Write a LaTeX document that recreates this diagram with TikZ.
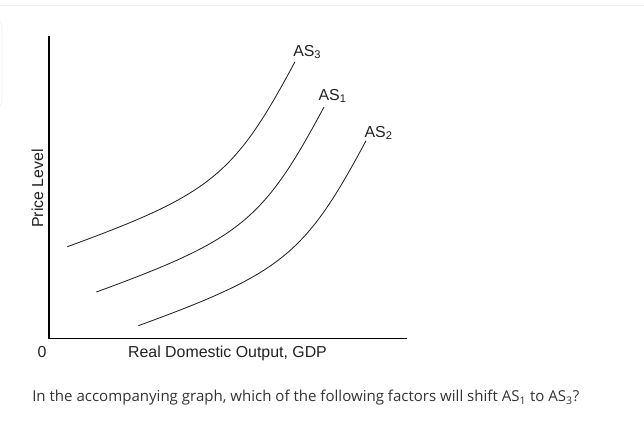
\documentclass[tikz,border=0pt]{standalone}
\usepackage{fontspec}
\setmainfont{Liberation Sans}
\newfontfamily\questfont{Open Sans}
\definecolor{labelblack}{HTML}{222222}
\definecolor{questgray}{HTML}{333333}
\definecolor{framegray}{HTML}{EEEEEE}

\tikzset{
  curvelabel/.style={anchor=base west, inner sep=0pt, text=labelblack},
  axislabel/.style={anchor=base, inner sep=0pt, text=labelblack},
  ascurve/.style={line width=0.6pt, labelblack},
}

\begin{document}
\begin{tikzpicture}[x=0.025cm, y=-0.025cm, font=\fontsize{11.3}{13}\selectfont]
        \useasboundingbox (0,0) rectangle (644,443);
        \draw[framegray] (0,5) -- (644,5);
        \draw[framegray, rounded corners=4pt] (-20,20) rectangle (2,107);
        % axes
        \draw[line width=0.8pt] (49,36) -- (49,338.3) -- (407,338.3);
        \node[axislabel] (zero) at (42,357) {0};
        \node[axislabel] (gdp) at (227.5,357) {Real Domestic Output, GDP};
        \node[axislabel, rotate=90] (price) at (43,188.5) {Price Level};
        % supply curves (same shape, shifted)
        \draw[ascurve] (67.3,246.7) .. controls (211.3,194.1) and (234.1,175.6) .. (295,61.7);
        \draw[ascurve, shift={(29,45.3)}] (67.3,246.7) .. controls (211.3,194.1) and (234.1,175.6) .. (295,61.7);
        \draw[ascurve, shift={(71,79)}] (67.3,246.7) .. controls (211.3,194.1) and (234.1,175.6) .. (295,61.7);
        \node[curvelabel] (as3) at (293,56) {AS\textsubscript{3}};
        \node[curvelabel] (as1) at (318.3,100) {AS\textsubscript{1}};
        \node[curvelabel] (as2) at (364.3,137.3) {AS\textsubscript{2}};
        % question
        \node[curvelabel, text=questgray, font=\questfont\fontsize{10.7}{13}\selectfont] (quest) at (32,401.7)
          {In the accompanying graph, which of the following factors will shift AS\textsubscript{1} to AS\textsubscript{3}?};
\end{tikzpicture}
\end{document}
